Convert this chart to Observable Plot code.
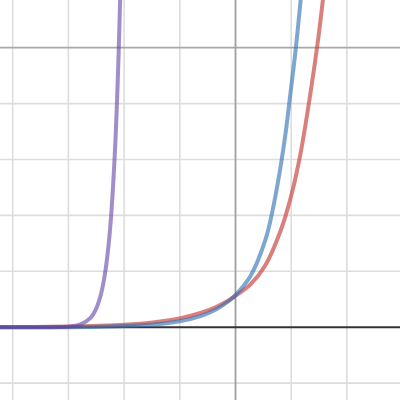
<!DOCTYPE html>
<html>
<head>
<meta charset="utf-8">
<script src="https://cdn.jsdelivr.net/npm/d3@7"></script>
<script src="https://cdn.jsdelivr.net/npm/@observablehq/plot@0.6"></script>
<style>
  html, body { margin: 0; padding: 0; background: #fff; overflow: hidden; }
  svg { display: block; }
</style>
</head>
<body>
<div id="chart"></div>
<script>
// Grid positions (grid units)
const xGrid = [-4, -3, -2, -1, 1, 2];
const yGridMinor = [-1, 1, 2, 3, 4];
const yGridMajor = [5];

// Red curve
const redX = [-4.219, -2.424, -1.526, -1.005, -0.628, -0.359, -0.126, 0, 0.269, 0.539, 0.808, 0.987, 1.167, 1.346, 1.49, 1.598];
const redY = [0.003, 0.027, 0.082, 0.158, 0.254, 0.356, 0.478, 0.562, 0.766, 1.114, 1.721, 2.301, 3.106, 4.191, 5.202, 6.114];

// Blue curve
const blueX = [-4.219, -2.424, -1.526, -1.005, -0.628, -0.359, -0.108, 0, 0.269, 0.539, 0.664, 0.808, 0.898, 0.987, 1.077, 1.167, 1.203];
const blueY = [0.0005, 0.01, 0.045, 0.107, 0.2, 0.313, 0.478, 0.574, 0.916, 1.572, 2.08, 2.866, 3.465, 4.19, 4.941, 5.828, 6.225];

// Purple curve
const purpleX = [-4.219, -3.142, -2.962, -2.783, -2.603, -2.513, -2.424, -2.352, -2.28, -2.226, -2.172, -2.136, -2.1, -2.073, -2.055];
const purpleY = [0.0, 0.0046, 0.015, 0.051, 0.168, 0.306, 0.558, 0.902, 1.458, 2.091, 2.996, 3.81, 4.844, 5.8, 6.53];

const toRows = (xs, ys) => xs.map((x, i) => ({x, y: ys[i]}));
const red = toRows(redX, redY);
const blue = toRows(blueX, blueY);
const purple = toRows(purpleX, purpleY);

const chart = Plot.plot({
  width: 400,
  height: 400,
  margin: 0,
  x: {domain: [-4.219, 2.962], axis: null},
  y: {domain: [-1.311, 5.844], axis: null},
  marks: [
    Plot.ruleX(xGrid, {stroke: "#dddddd", strokeWidth: 1.6}),
    Plot.ruleY(yGridMinor, {stroke: "#dddddd", strokeWidth: 1.6}),
    Plot.ruleY(yGridMajor, {stroke: "#a8a8a8", strokeWidth: 1.8}),
    Plot.ruleX([0], {stroke: "#a0a0a0", strokeWidth: 1.8}),
    Plot.ruleY([0], {stroke: "#333333", strokeWidth: 2}),
    Plot.line(red, {x: "x", y: "y", stroke: "#c74440", strokeOpacity: 0.68, strokeWidth: 4, curve: "catmull-rom", clip: true}),
    Plot.line(blue, {x: "x", y: "y", stroke: "#2d70b3", strokeOpacity: 0.62, strokeWidth: 4, curve: "catmull-rom", clip: true}),
    Plot.line(purple, {x: "x", y: "y", stroke: "#6042a6", strokeOpacity: 0.6, strokeWidth: 4, curve: "catmull-rom", clip: true})
  ]
});
document.getElementById("chart").appendChild(chart);
</script>
</body>
</html>
